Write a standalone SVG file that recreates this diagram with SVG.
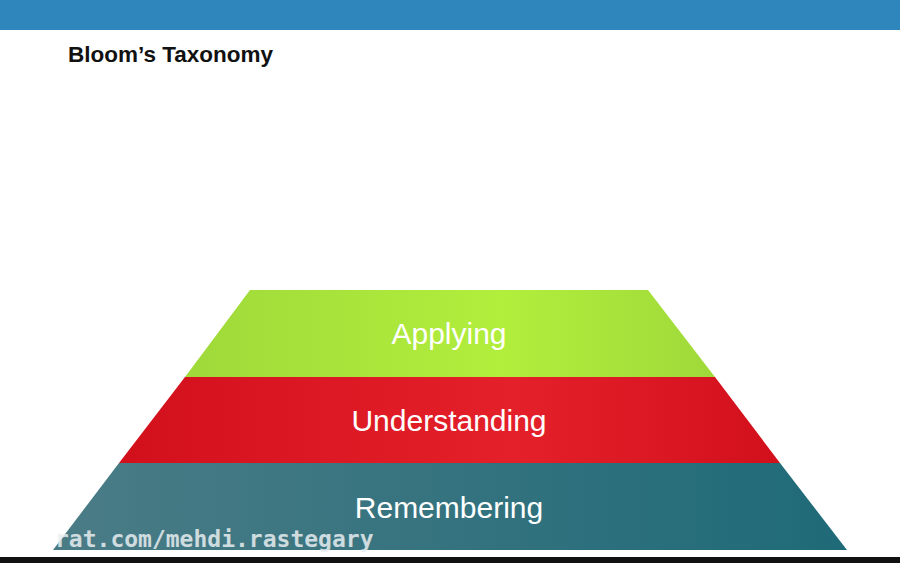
<svg xmlns="http://www.w3.org/2000/svg" width="900" height="563" viewBox="0 0 900 563">
<style>
.lbl{font-family:"Liberation Sans",Arial,sans-serif;font-size:30px;fill:#fff;text-anchor:middle}
</style>
<defs>
<linearGradient id="g1" x1="0" x2="1"><stop offset="0" stop-color="#9fd93a"/><stop offset="0.6" stop-color="#b2ee3c"/><stop offset="1" stop-color="#9fd93a"/></linearGradient>
<linearGradient id="g2" x1="0" x2="1"><stop offset="0" stop-color="#d2101c"/><stop offset="0.6" stop-color="#e4202a"/><stop offset="1" stop-color="#d2101c"/></linearGradient>
<linearGradient id="g3" x1="0" x2="1"><stop offset="0" stop-color="#4a7c86"/><stop offset="1" stop-color="#1f6a78"/></linearGradient>
</defs>
<rect width="900" height="563" fill="#fff"/>
<rect width="900" height="30" fill="#2e86bd"/>
<text x="68" y="62" font-family="Liberation Sans,Arial,sans-serif" font-weight="bold" font-size="22.5" fill="#111">Bloom’s Taxonomy</text>
<g id="applying"><polygon points="250,290 648,290 715,377 185,377" fill="url(#g1)"/><text class="lbl" x="449" y="344">Applying</text></g>
<g id="understanding"><polygon points="185,377 715,377 780,463 119,463" fill="url(#g2)"/><text class="lbl" x="449" y="431">Understanding</text></g>
<g id="remembering"><polygon points="119,463 780,463 847,550 53,550" fill="url(#g3)"/><text class="lbl" x="449" y="518">Remembering</text></g>
<g id="connectors"/>
<text x="55" y="547" font-family="DejaVu Sans Mono,monospace" font-weight="bold" font-size="23" fill="#e8eef0" opacity="0.85">rat.com/mehdi.rastegary</text>
<rect y="557" width="900" height="6" fill="#111"/>
</svg>
